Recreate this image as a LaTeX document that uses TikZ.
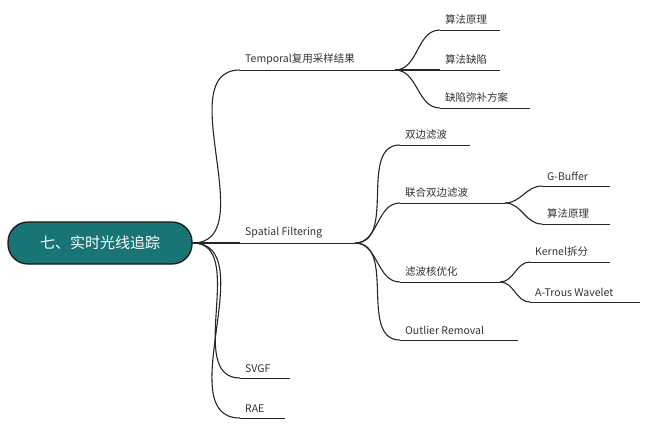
\documentclass[tikz,border=0pt]{standalone}
\usepackage{fontspec}
\setmainfont{Noto Sans CJK SC}
\begin{document}
\begin{tikzpicture}[x=1pt,y=-1pt,
  conn/.style={draw=black!85,line width=1.1pt},
  ul/.style={draw=black!85,line width=1pt},
  lbl/.style={anchor=south west,inner sep=1pt,font=\fontsize{10.5}{12}\selectfont,text=black!80}]
\useasboundingbox (0,0) rectangle (650,431);
\newcommand\leaf[5]{%
  \coordinate (#1) at (#2,#4); \coordinate (#1e) at (#3,#4);
  \draw[ul] (#1) -- (#1e);
  \node[lbl] (#1t) at (#2+4,#4-4) {#5};}
\node[draw=black!90,line width=1.3pt,fill=teal!80!black!90,rounded corners=20pt,
  minimum width=184pt,minimum height=42pt,text=white,font=\fontsize{15}{16}\selectfont]
  (root) at (100,243) {七、实时光线追踪};
\leaf{t}{240}{395}{70}{Temporal复用采样结果}
\leaf{s}{240}{355}{243}{Spatial Filtering}
\leaf{v}{240}{290}{378}{SVGF}
\leaf{r}{240}{285}{418}{RAE}
\leaf{t1}{440}{500}{30}{算法原理}
\leaf{t2}{440}{500}{70}{算法缺陷}
\leaf{t3}{440}{530}{108}{缺陷弥补方案}
\leaf{s1}{400}{470}{145}{双边滤波}
\leaf{s2}{400}{505}{203}{联合双边滤波}
\leaf{s3}{400}{500}{282}{滤波核优化}
\leaf{s4}{400}{518}{340}{Outlier Removal}
\leaf{g1}{542}{610}{186}{G-Buffer}
\leaf{g2}{542}{610}{224}{算法原理}
\leaf{k1}{530}{610}{262}{Kernel拆分}
\leaf{k2}{530}{640}{302}{A-Trous Wavelet}
\foreach \c in {t,s,v,r}{\draw[conn] (root.east) to[out=0,in=180] (\c);}
\foreach \c in {t1,t2,t3}{\draw[conn] (te) to[out=0,in=180] (\c);}
\foreach \c in {s1,s2,s3,s4}{\draw[conn] (se) to[out=0,in=180] (\c);}
\foreach \c in {g1,g2}{\draw[conn] (s2e) to[out=0,in=180] (\c);}
\foreach \c in {k1,k2}{\draw[conn] (s3e) to[out=0,in=180] (\c);}
\end{tikzpicture}
\end{document}
